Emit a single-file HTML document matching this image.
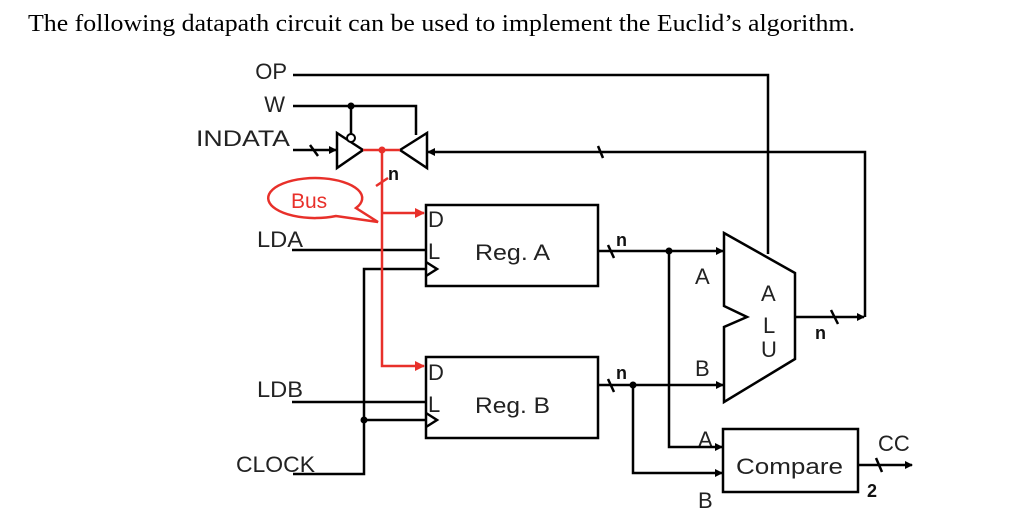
<!DOCTYPE html>
<html><head><meta charset="utf-8"><style>body{margin:0;background:#fff}svg{display:block}</style></head><body>
<svg width="1024" height="516" viewBox="0 0 1024 516" xmlns="http://www.w3.org/2000/svg">
<defs>
<marker id="ab" markerWidth="8" markerHeight="8" refX="7" refY="4" orient="auto" markerUnits="userSpaceOnUse"><path d="M0,0 L8,4 L0,8 z" fill="#000"/></marker>
<marker id="ar" markerWidth="10" markerHeight="10" refX="9" refY="5" orient="auto" markerUnits="userSpaceOnUse"><path d="M0,0 L10,5 L0,10 z" fill="#e8302a"/></marker>
</defs>
<text x="28" y="31" font-family="Liberation Serif" font-size="24" textLength="827" lengthAdjust="spacingAndGlyphs">The following datapath circuit can be used to implement the Euclid’s algorithm.</text>
<g font-family="Liberation Sans, sans-serif" font-size="22" fill="#222">
<text x="287" y="79" text-anchor="end">OP</text>
<text x="285" y="112" text-anchor="end">W</text>
<text x="196" y="146" textLength="94" lengthAdjust="spacingAndGlyphs">INDATA</text>
<text x="257" y="247" textLength="46" lengthAdjust="spacingAndGlyphs">LDA</text>
<text x="257" y="397" textLength="46" lengthAdjust="spacingAndGlyphs">LDB</text>
<text x="236" y="472" textLength="79" lengthAdjust="spacingAndGlyphs">CLOCK</text>
<text x="475" y="260" textLength="75" lengthAdjust="spacingAndGlyphs">Reg. A</text>
<text x="475" y="413" textLength="75" lengthAdjust="spacingAndGlyphs">Reg. B</text>
<text x="428" y="227">D</text><text x="428" y="259">L</text>
<text x="428" y="380">D</text><text x="428" y="412">L</text>
<text x="695" y="284">A</text><text x="695" y="376">B</text>
<text x="698" y="447">A</text><text x="698" y="508">B</text>
<text x="761" y="301">A</text><text x="763" y="333">L</text><text x="761" y="357">U</text>
<text x="736" y="474" textLength="107" lengthAdjust="spacingAndGlyphs">Compare</text>
<text x="878" y="451">CC</text>
</g>
<g font-family="Liberation Sans, sans-serif" font-size="18" font-weight="bold" fill="#111">
<text x="388" y="180">n</text><text x="616" y="246">n</text><text x="616" y="379">n</text>
<text x="815" y="339">n</text><text x="867" y="497">2</text>
</g>
<g stroke="#000" stroke-width="2.5" fill="none">
<path d="M293,75 H768 V254"/>
<path d="M293,106 H416 V135"/>
<path d="M351,106 V134"/>
<path d="M293,150 H336" marker-end="url(#ab)"/>
<path d="M310,145 L318,156"/>
<path d="M337,133 L363,150 L337,168 Z"/>
<path d="M400,150 L427,133 L427,168 Z"/>
<path d="M865,317 V152 H428" marker-end="url(#ab)"/>
<path d="M598,146 L603,158"/>
<rect x="426" y="205" width="172" height="81"/>
<rect x="426" y="357" width="172" height="81"/>
<path d="M292,250 H426"/><path d="M292,402 H426"/>
<path d="M293,474 H364 V269 H426"/><path d="M364,420 H426"/>
<path d="M426,262 L437,269 L426,276"/><path d="M426,413 L437,420 L426,427"/>
<path d="M598,251 H723" marker-end="url(#ab)"/>
<path d="M598,385 H723" marker-end="url(#ab)"/>
<path d="M608,245 L614,258"/><path d="M608,379 L614,392"/>
<path d="M669,251 V447 H722" marker-end="url(#ab)"/>
<path d="M633,385 V473 H722" marker-end="url(#ab)"/>
<path d="M724,233 L795,273 V359 L724,402 V327 L747,317 L724,306 Z"/>
<path d="M795,317 H864" marker-end="url(#ab)"/>
<path d="M831,310 L838,324"/>
<rect x="723" y="429" width="135" height="63"/>
<path d="M858,465 H912" marker-end="url(#ab)"/>
<path d="M876,458 L882,472"/>
</g>
<circle cx="351" cy="106" r="3.5"/><circle cx="669" cy="251" r="3.5"/><circle cx="633" cy="385" r="3.5"/><circle cx="364" cy="420" r="3.5"/>
<circle cx="351" cy="138" r="4" fill="#fff" stroke="#000" stroke-width="2"/>
<g stroke="#e8302a" stroke-width="2.5" fill="none">
<path d="M363,150 H400"/>
<path d="M382,150 V366 H424" marker-end="url(#ar)"/>
<path d="M382,213 H424" marker-end="url(#ar)"/>
<path d="M376,186 L388,178"/>
<path d="M356,208 A47,20 0 1 0 336,216 L378,222 Z" fill="#fff"/>
</g>
<circle cx="382" cy="150" r="3.5" fill="#e8302a"/>
<text x="291" y="208" font-family="Liberation Sans, sans-serif" font-size="21" fill="#e8302a">Bus</text>
</svg>
</body></html>
